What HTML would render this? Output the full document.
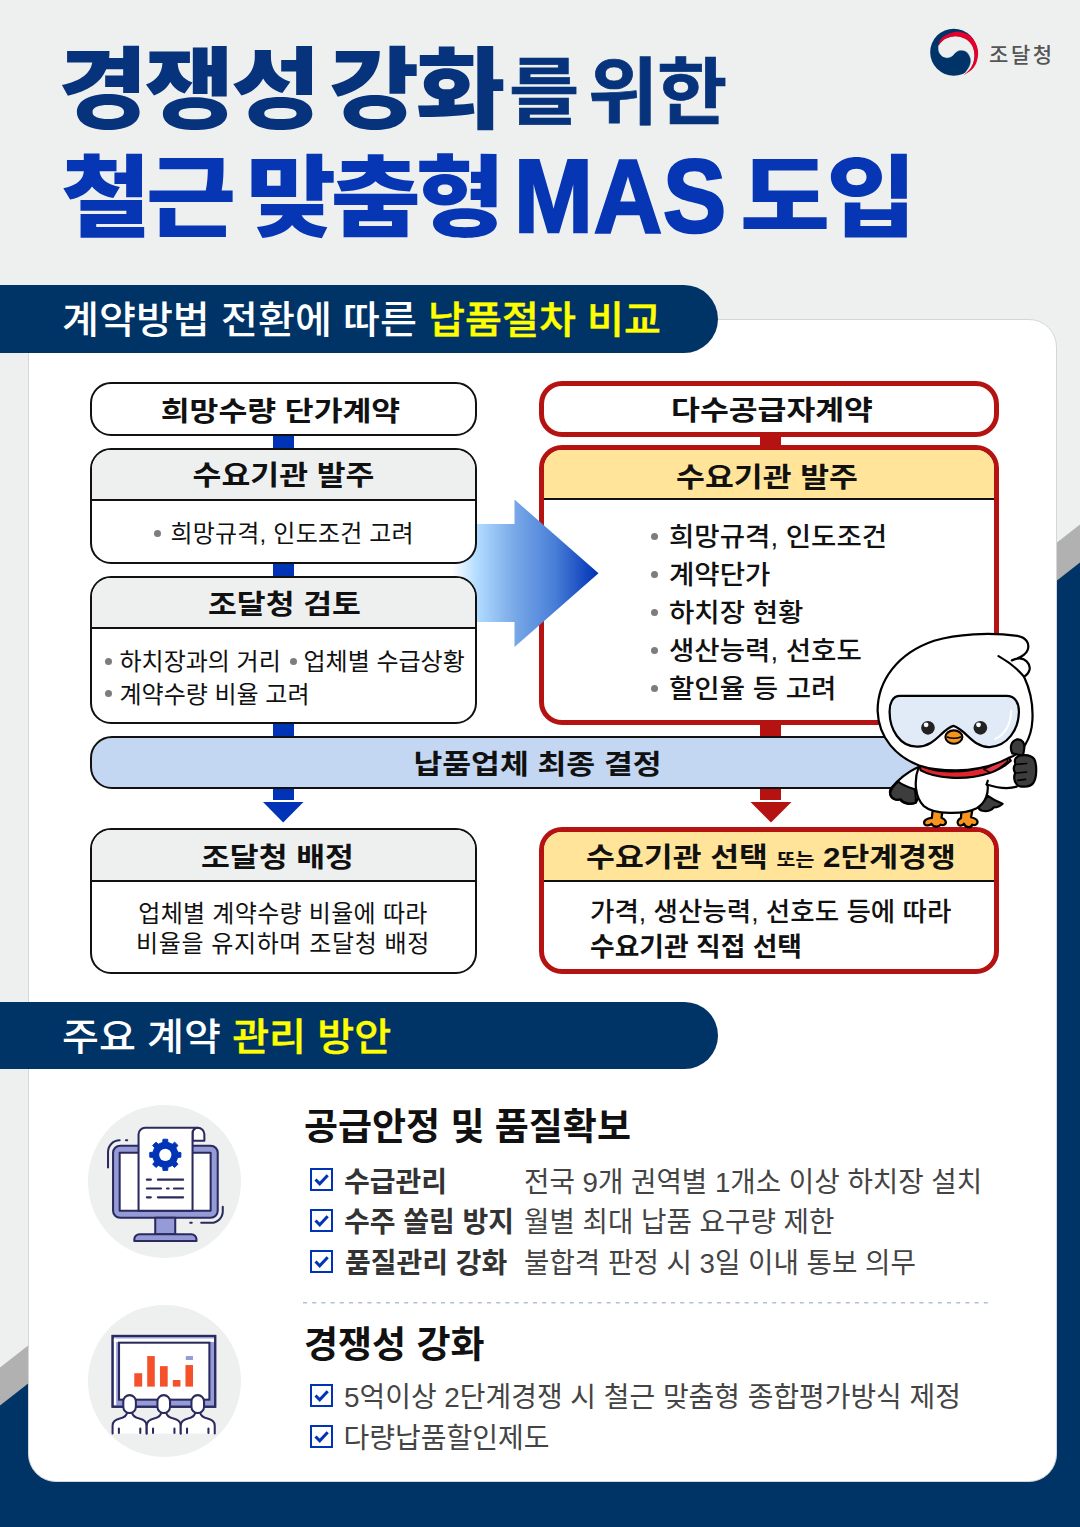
<!DOCTYPE html>
<html lang="ko">
<head>
<meta charset="utf-8">
<title>철근 맞춤형 MAS 도입</title>
<style>
*{box-sizing:border-box;margin:0;padding:0}
html,body{width:1080px;height:1527px;overflow:hidden;background:#eef0f0}
body{position:relative;font-family:"Liberation Sans","Noto Sans CJK KR",sans-serif;color:#111}
.abs{position:absolute}
.t{position:absolute;white-space:nowrap;line-height:1}
#bg{position:absolute;left:0;top:0;width:1080px;height:1527px}
#card{position:absolute;left:27.8px;top:319px;width:1029px;height:1163.2px;background:#fff;border-radius:28px;border:1.6px solid #d6d6d6}
/* title */
.ttl{font-family:"Liberation Sans","Noto Sans CJK KR",sans-serif;font-weight:900}
.k1,.k2{font-size:89px;letter-spacing:-3.3px;transform-origin:0 0;transform:scaleX(1.10)}
.tc{top:0;transform-origin:0 0;transform:scaleX(1.045)}
.k1{color:#06337b}.k2{color:#0636b4}
/* pills */
.pill{position:absolute;left:0;width:718px;height:68px;background:#003366;border-radius:0 34px 34px 0}
.pill .t{left:62px;top:16px;font-size:38px;color:#fff;font-weight:500;transform-origin:0 50%;transform:scaleX(1.057)}
.pill b{color:#ffff00;font-weight:500;-webkit-text-stroke:.4px #ffff00}
/* boxes */
.bx{position:absolute;border:2px solid #111;border-radius:21px;background:#fff;overflow:hidden}
.bx .hd{position:absolute;left:0;right:0;top:0;background:#eef0f0;border-bottom:2px solid #111}
.rx{position:absolute;border:5px solid #b51212;border-radius:23px;background:#fff;overflow:hidden}
.rx .hd{position:absolute;left:0;right:0;top:0;background:#ffe499;border-bottom:2px solid #111}
.bt{font-size:27.5px;font-weight:700;color:#111;text-align:center;left:0;right:0;transform:scaleX(1.14)}
.c{position:absolute}
.h2{font-size:37px;font-weight:700;color:#111;transform-origin:0 50%}
.lb{font-size:28px;font-weight:700;color:#333;transform-origin:0 50%}
.lr{font-size:28px;font-weight:400;color:#444;transform-origin:0 50%;transform:scaleX(.987)}
.li{margin-top:-1px;font-size:24px;font-weight:400;color:#111}
.ri{margin-top:-1px;font-size:26px;font-weight:500;color:#111;transform-origin:0 50%;transform:scaleX(1.06)}
.dot{position:absolute;width:7px;height:7px;border-radius:50%;background:#7d7d7d}
</style>
</head>
<body>
<svg id="bg" viewBox="0 0 1080 1527">
  <polygon points="0,1367.4 1080,524.5 1080,1527 0,1527" fill="#b1b1b1"/>
  <polygon points="0,1405.4 1080,562.5 1080,1527 0,1527" fill="#003366"/>
</svg>
<div id="card"></div>

<!-- TITLE -->
<div class="t ttl k1" id="tA" style="left:58px;top:46px">경쟁성</div>
<div class="t ttl k1" id="tB" style="left:329px;top:46px">강화</div>
<div class="t ttl" id="tC" style="left:0;top:56px;font-size:73px;color:#06337b;font-weight:700;-webkit-text-stroke:.7px #06337b"><span class="t tc" id="tC1" style="left:508.6px">를 </span><span class="t tc" id="tC2" style="left:587.9px">위</span><span class="t tc" id="tC3" style="left:656.9px">한</span></div>
<div class="t ttl k2" id="tD" style="left:61px;top:154px;letter-spacing:-4.5px">철근</div>
<div class="t ttl k2" id="tE" style="left:246px;top:154px;letter-spacing:-4.8px">맞춤형</div>
<div class="t ttl k2" id="tF" style="left:514px;top:144px;font-size:104px;letter-spacing:1px;transform:scaleX(.91);-webkit-text-stroke:2.6px #0636b4">MAS</div>
<div class="t ttl k2" id="tG" style="left:740px;top:154px">도입</div>

<!-- LOGO -->
<svg class="abs" id="LG" style="left:910px;top:10px" width="160" height="90" viewBox="0 0 1080 608">
 <circle cx="295" cy="285" r="159" fill="#003468"/>
 <path d="M191.5,242.5C194.6,238.3 201.5,225.8 210.0,217.5C218.5,209.2 228.8,199.0 242.5,192.5C256.2,186.0 275.8,180.2 292.5,178.5C309.2,176.8 325.8,177.7 342.5,182.5C359.2,187.3 378.8,195.8 392.5,207.5C406.2,219.2 417.9,235.8 425.0,252.5C432.1,269.2 435.0,289.2 435.0,307.5C435.0,325.8 431.2,345.8 425.0,362.5C418.8,379.2 408.8,394.2 397.5,407.5C386.2,420.8 364.2,436.7 357.5,442.5C360.8,438.3 370.0,428.3 377.5,417.5C385.0,406.7 397.1,390.8 402.5,377.5C407.9,364.2 410.8,350.0 410.0,337.5C409.2,325.0 403.8,312.5 397.5,302.5C391.2,292.5 382.5,282.5 372.5,277.5C362.5,272.5 348.3,270.8 337.5,272.5C326.7,274.2 316.7,280.8 307.5,287.5C298.3,294.2 291.7,306.7 282.5,312.5C273.3,318.3 263.3,322.5 252.5,322.5C241.7,322.5 227.1,319.2 217.5,312.5C207.9,305.8 199.3,294.2 195.0,282.5C190.7,270.8 192.1,249.2 191.5,242.5Z" fill="#eef0f0" stroke="#eef0f0" stroke-width="2"/>
 <path d="M191.5,242.5C193.3,236.2 195.7,216.2 202.5,205.0C209.3,193.8 217.5,184.2 232.5,175.0C247.5,165.8 273.3,154.2 292.5,150.0C311.7,145.8 328.3,145.8 347.5,150.0C366.7,154.2 390.8,161.2 407.5,175.0C424.2,188.8 438.8,212.9 447.5,232.5C456.2,252.1 460.0,271.7 460.0,292.5C460.0,313.3 455.4,338.3 447.5,357.5C439.6,376.7 427.5,393.3 412.5,407.5C397.5,421.7 366.7,436.7 357.5,442.5C364.2,436.7 386.2,420.8 397.5,407.5C408.8,394.2 418.8,379.2 425.0,362.5C431.2,345.8 435.0,325.8 435.0,307.5C435.0,289.2 432.1,269.2 425.0,252.5C417.9,235.8 406.2,219.2 392.5,207.5C378.8,195.8 359.2,187.3 342.5,182.5C325.8,177.7 309.2,176.8 292.5,178.5C275.8,180.2 256.2,186.0 242.5,192.5C228.8,199.0 218.5,209.2 210.0,217.5C201.5,225.8 194.6,238.3 191.5,242.5Z" fill="#e4002b"/>
</svg>
<div class="t" id="LGt" style="left:989px;top:43.5px;font-size:21px;font-weight:500;color:#555;letter-spacing:2.6px">조달청</div>
<!-- SECTION PILLS -->
<div class="pill" style="top:285px"><div class="t" id="P1">계약방법 전환에 따른 <b>납품절차 비교</b></div></div>
<div class="pill" style="top:1002px;height:67px"><div class="t" id="P2">주요 계약 <b>관리 방안</b></div></div>

<!--FLOW-->
<!-- connectors -->
<div class="c" style="left:272.5px;top:430px;width:21.5px;height:370px;background:#0033b5"></div>
<div class="c" style="left:760px;top:430px;width:21px;height:370px;background:#b51212"></div>
<svg class="abs" style="left:250px;top:786px" width="560" height="40" viewBox="250 786 560 40">
  <polygon points="263,802 303.5,802 283.2,822.5" fill="#0033b5"/>
  <polygon points="750.5,802 791.5,802 771,822.5" fill="#b51212"/>
</svg>
<!-- right column -->
<div class="rx" id="R1" style="left:538.5px;top:380.5px;width:460px;height:56.5px"><div class="t bt" id="R1t" style="top:11.5px;left:3.5px;right:-3.5px">다수공급자계약</div></div>
<div class="rx" id="R2" style="left:538.5px;top:445px;width:460px;height:280px">
  <div class="hd" style="height:50px"></div><div class="t bt" id="R2t" style="top:14px;left:-1.5px;right:1.5px">수요기관 발주</div>
  <i class="dot" style="left:107px;top:83px"></i><div class="t ri" id="R2a" style="left:125px;top:75px">희망규격, 인도조건</div>
  <i class="dot" style="left:107px;top:121px"></i><div class="t ri" id="R2b" style="left:125px;top:113px">계약단가</div>
  <i class="dot" style="left:107px;top:159px"></i><div class="t ri" id="R2c" style="left:125px;top:150.5px">하치장 현황</div>
  <i class="dot" style="left:107px;top:197px"></i><div class="t ri" id="R2d" style="left:125px;top:188.5px">생산능력, 선호도</div>
  <i class="dot" style="left:107px;top:235px"></i><div class="t ri" id="R2e" style="left:125px;top:226.5px">할인율 등 고려</div>
</div>
<div class="rx" id="R3" style="left:538.5px;top:826.5px;width:460px;height:147.5px">
  <div class="hd" style="height:50px"></div><div class="t bt" id="R3t" style="top:12.5px;left:2.5px;right:-2.5px">수요기관 선택 <span style="font-size:18px;font-weight:700;position:relative;top:-1.5px">또는</span> 2단계경쟁</div>
  <div class="t ri" id="R3a" style="left:46px;top:68px;transform:scaleX(1.02)">가격, 생산능력, 선호도 등에 따라</div>
  <div class="t ri" id="R3b" style="left:46px;top:103.5px;font-weight:700;transform:scaleX(1.03)">수요기관 직접 선택</div>
</div>
<!-- big gradient arrow (behind left boxes) -->
<svg class="abs" style="left:440px;top:490px" width="170" height="170" viewBox="440 490 170 170">
  <defs><linearGradient id="ga" x1="452" y1="0" x2="598" y2="0" gradientUnits="userSpaceOnUse">
    <stop offset="0" stop-color="#ffffff"/><stop offset=".17" stop-color="#b2dcff"/><stop offset=".42" stop-color="#7aaae8"/><stop offset=".7" stop-color="#4a7fd8"/><stop offset="1" stop-color="#0033b5"/>
  </linearGradient></defs>
  <polygon id="bigarrow" points="452,524 514.5,524 514.5,499.5 598.5,573.3 514.5,647 514.5,622 452,622" fill="url(#ga)"/>
</svg>

<!-- left column -->
<div class="bx" id="L1" style="left:89.5px;top:382px;width:387px;height:54px"><div class="t bt" id="L1t" style="top:13.5px;left:-2.5px;right:2.5px">희망수량 단가계약</div></div>
<div class="bx" id="L2" style="left:89.5px;top:447.5px;width:387px;height:116.5px">
  <div class="hd" style="height:51px"></div><div class="t bt" id="L2t" style="top:12px">수요기관 발주</div>
  <i class="dot" style="left:62px;top:80px"></i><div class="t li" id="L2a" style="left:79px;top:73px;letter-spacing:.2px">희망규격, 인도조건 고려</div>
</div>
<div class="bx" id="L3" style="left:89.5px;top:576px;width:387px;height:148px">
  <div class="hd" style="height:51px"></div><div class="t bt" id="L3t" style="top:12.5px;left:1.5px;right:-1.5px">조달청 검토</div>
  <i class="dot" style="left:13.7px;top:79.7px"></i><div class="t li" id="L3a" style="left:28px;top:73px">하치장과의 거리</div>
  <i class="dot" style="left:198px;top:79.7px"></i><div class="t li" id="L3b" style="left:212px;top:73px">업체별 수급상황</div>
  <i class="dot" style="left:13.7px;top:112.2px"></i><div class="t li" id="L3c" style="left:28px;top:105.5px">계약수량 비율 고려</div>
</div>
<div class="bx" id="BAR" style="left:89.5px;top:735.5px;width:909px;height:53px;background:#c3d7f2;border-radius:22px"><div class="t bt" id="BARt" style="top:13.5px;left:0;width:891px">납품업체 최종 결정</div></div>
<div class="bx" id="L4" style="left:89.5px;top:828px;width:387px;height:145.5px">
  <div class="hd" style="height:52px"></div><div class="t bt" id="L4t" style="top:14px;left:-6px;right:6px">조달청 배정</div>
  <div class="t li" id="L4a" style="left:0;right:0;text-align:center;top:72.5px;letter-spacing:.3px">업체별 계약수량 비율에 따라</div>
  <div class="t li" id="L4b" style="left:0;right:0;text-align:center;top:102.5px;letter-spacing:.6px">비율을 유지하며 조달청 배정</div>
</div>

<!--MASCOT-->
<svg class="abs" id="MS" style="left:860px;top:620px" width="200" height="220" viewBox="0 0 1080 1188">
 <g stroke="#000" stroke-width="12" stroke-linejoin="round" stroke-linecap="round" fill="#fff">
  <!-- left wing -->
  <path d="M320,792C262,815 200,868 168,908C150,940 172,975 216,968C232,992 272,1000 302,986L330,930Z"/>
  <path d="M206,872C186,890 166,912 163,936C166,966 196,978 218,968C236,990 276,998 302,985C302,952 300,930 296,914C264,904 226,890 206,872Z" fill="#3d3d3d"/>
  <!-- tail feather right -->
  <path d="M690,950C720,972 748,984 770,992C756,1006 740,1012 722,1012C714,1026 690,1036 660,1030C650,1028 644,1022 638,1014Z" fill="#3d3d3d"/>
  <!-- feet -->
  <path d="M392,1030L388,1068C360,1070 340,1086 348,1102C356,1114 376,1110 386,1100C396,1120 426,1120 436,1105C452,1113 470,1100 461,1084C456,1075 446,1070 440,1068L446,1030Z" fill="#f7941d"/>
  <path d="M548,1030L545,1070C528,1076 521,1096 532,1106C542,1114 556,1109 561,1100C571,1124 601,1124 606,1105C621,1113 640,1100 633,1084C628,1074 612,1068 600,1065L606,1030Z" fill="#f7941d"/>
  <!-- body -->
  <path d="M318,790C288,870 298,960 345,1005C400,1052 560,1052 630,1016C682,986 696,930 688,880L770,760Z"/>
  <!-- arm -->
  <path d="M690,800L800,738C816,724 826,712 832,698L856,720L846,900C800,914 740,906 684,888Z" stroke="none"/>
  <path d="M800,738C816,724 826,712 832,698" fill="none"/>
  <path d="M690,868L684,888" fill="none"/>
  <path d="M684,888C740,906 800,914 846,900" fill="none"/>
  <!-- scarf -->
  <path d="M318,780C400,826 560,832 680,788C730,768 770,752 802,738L814,760C780,792 740,812 700,826C560,872 400,852 328,812Z" fill="#e0262d"/>
  <path d="M668,806C700,790 740,775 772,752C790,748 800,752 796,764C770,790 735,812 704,824Z" fill="#e23a44" stroke-width="8"/>
  <!-- head -->
  <path d="M95,490C95,330 200,180 400,112C520,76 700,64 850,86C900,96 916,126 906,160C896,190 860,206 820,218C850,204 882,204 902,226C926,250 920,286 886,306C916,370 936,450 931,540C926,640 880,720 800,746C720,790 620,810 520,812C430,812 360,800 320,786C200,740 100,640 95,490Z"/>
  <path d="M748,195C800,224 850,264 886,306" fill="none"/>
  <!-- hand -->
  <path d="M822,720C808,690 814,655 846,645C876,640 893,666 886,700L880,734Z" fill="#3d3d3d"/>
  <path d="M842,745C862,724 920,724 940,750C956,780 956,850 936,880C916,906 860,906 845,886C830,870 830,842 838,826C828,810 830,790 840,778C835,765 836,752 842,745Z" fill="#3d3d3d"/>
  <path d="M846,780L900,775M846,826L900,821M852,866L894,861" fill="none" stroke-width="9"/>
  <!-- goggles -->
  <path d="M216,410L790,410C840,410 860,450 858,500C855,590 800,680 700,686C610,690 570,590 505,572C440,590 405,686 310,684C215,686 160,590 160,500C158,450 176,410 216,410Z" fill="#e0ebf7"/>
  <path d="M816,490C816,560 782,620 730,642" fill="none" stroke="#fff" stroke-width="11"/>
  <circle cx="367" cy="582" r="37" fill="#222" stroke="none"/><circle cx="650" cy="582" r="37" fill="#222" stroke="none"/>
  <circle cx="357" cy="566" r="13" stroke="none"/><circle cx="640" cy="566" r="13" stroke="none"/>
  <ellipse cx="507" cy="632" rx="46" ry="36" fill="#f7941d" stroke-width="11"/>
  <path d="M470,632C492,640 524,640 544,632" fill="none" stroke-width="8"/>
 </g>
</svg>
<!--LOWER-->
<div class="c" style="left:88px;top:1105px;width:152.5px;height:152.5px;border-radius:50%;background:#eef0f0"></div>
<div class="c" style="left:88px;top:1304.5px;width:152.5px;height:152.5px;border-radius:50%;background:#eef0f0"></div>
<!--ICON1-->
<svg class="abs" id="IC1" style="left:80px;top:1095px" width="170" height="170" viewBox="0 0 1080 1080">
 <g fill="none" stroke="#2b2a5e" stroke-width="13" stroke-linecap="round" stroke-linejoin="round">
  <rect x="210" y="322" width="665" height="458" rx="45" fill="#959bd6"/>
  <rect x="252" y="367" width="578" height="368" fill="#fff"/>
  <path d="M178,460V362A74 74 0 0 1 252,288"/><path d="M292,288h8"/>
  <path d="M907,710V738A74 74 0 0 1 833,812H770"/><path d="M700,812h10"/>
  <rect x="478" y="780" width="127" height="105" fill="#959bd6"/>
  <path d="M345,928V918A33 33 0 0 1 378,885H707A33 33 0 0 1 740,918V928Z" fill="#959bd6"/>
  <path d="M715,290H790V250A42 42 0 0 0 748,208A33 33 0 0 0 715,241Z" fill="#fff"/>
  <path d="M372,735V250A42 42 0 0 1 414,208H748A33 33 0 0 0 715,241V735Z" fill="#fff"/>
  <g stroke-width="14"><path d="M425,538h25M495,538h160M425,594h90M553,594h10M597,594h58M425,650h25M495,650h160"/></g>
 </g>
 <path d="M525.6,300.7 L527.1,281.1 L556.9,281.1 L558.4,300.7 L586.5,312.3 L601.4,299.6 L622.4,320.6 L609.7,335.5 L621.3,363.6 L640.9,365.1 L640.9,394.9 L621.3,396.4 L609.7,424.5 L622.4,439.4 L601.4,460.4 L586.5,447.7 L558.4,459.3 L556.9,478.9 L527.1,478.9 L525.6,459.3 L497.5,447.7 L482.6,460.4 L461.6,439.4 L474.3,424.5 L462.7,396.4 L443.1,394.9 L443.1,365.1 L462.7,363.6 L474.3,335.5 L461.6,320.6 L482.6,299.6 L497.5,312.3Z" fill="#0033b5" stroke="#0033b5" stroke-width="6" stroke-linejoin="round"/><circle cx="542" cy="380" r="39" fill="#fff"/>
</svg>
<!--ICON2-->
<svg class="abs" id="IC2" style="left:80px;top:1295px" width="170" height="170" viewBox="0 0 1080 1080">
 <g fill="none" stroke="#2b2a5e" stroke-width="13" stroke-linejoin="round" stroke-linecap="round">
  <rect x="207" y="260" width="652" height="450" fill="#959bd6" stroke-linejoin="miter"/>
  <path d="M214,288H852" stroke="#fff" stroke-width="22" stroke-linecap="butt"/><path d="M222,277V700" stroke="#fff" stroke-width="16" stroke-linecap="butt"/>
  <rect x="207" y="260" width="652" height="450" stroke-linejoin="miter"/>
  <rect x="248" y="303" width="574" height="362" fill="#fff" stroke-linejoin="miter"/>
  <g stroke="none" fill="#f4502a"><rect x="345" y="497" width="50" height="85"/><rect x="427" y="388" width="48" height="194"/><rect x="508" y="452" width="49" height="130"/><rect x="590" y="540" width="48" height="42"/><rect x="670" y="445" width="48" height="137"/><rect x="672" y="388" width="46" height="25" fill="#959bd6"/></g>
  <path d="M207,880V830C207,800 227,791 253,785C279,779 295,770 299,748H331C335,770 351,779 377,785C403,791 423,800 423,830V880" fill="#fff"/><path d="M247,848V876M383,848V876"/><rect x="275" y="636" width="80" height="114" rx="40" fill="#fff"/><path d="M424,880V830C424,800 444,791 470,785C496,779 512,770 516,748H548C552,770 568,779 594,785C620,791 640,800 640,830V880" fill="#fff"/><path d="M464,848V876M600,848V876"/><rect x="492" y="636" width="80" height="114" rx="40" fill="#fff"/><path d="M640,880V830C640,800 660,791 686,785C712,779 728,770 732,748H764C768,770 784,779 810,785C836,791 856,800 856,830V880" fill="#fff"/><path d="M680,848V876M816,848V876"/><rect x="708" y="636" width="80" height="114" rx="40" fill="#fff"/>
 </g>
</svg>
<div class="t h2" id="H1" style="left:304px;top:1108.5px">공급안정 및 품질확보</div>
<div class="t h2" id="H2" style="left:304px;top:1326.5px">경쟁성 강화</div>
<svg class="abs" style="left:300px;top:1300px" width="700" height="6" viewBox="0 0 700 6"><line x1="3" y1="2.7" x2="690" y2="2.7" stroke="#aebfd6" stroke-width="1.6" stroke-dasharray="4 5.2"/></svg>
<svg class="abs ck" style="left:309px;top:1166.7px" width="26" height="26" viewBox="0 0 26 26"><rect x="2" y="2" width="21" height="21" fill="#fff" stroke="#0033b5" stroke-width="2"/><path d="M6.5 12.5l4.2 4.3 8-8.6" fill="none" stroke="#0033b5" stroke-width="3"/></svg>
<svg class="abs ck" style="left:309px;top:1207.5px" width="26" height="26" viewBox="0 0 26 26"><rect x="2" y="2" width="21" height="21" fill="#fff" stroke="#0033b5" stroke-width="2"/><path d="M6.5 12.5l4.2 4.3 8-8.6" fill="none" stroke="#0033b5" stroke-width="3"/></svg>
<svg class="abs ck" style="left:309px;top:1249px" width="26" height="26" viewBox="0 0 26 26"><rect x="2" y="2" width="21" height="21" fill="#fff" stroke="#0033b5" stroke-width="2"/><path d="M6.5 12.5l4.2 4.3 8-8.6" fill="none" stroke="#0033b5" stroke-width="3"/></svg>
<svg class="abs ck" style="left:309px;top:1383px" width="26" height="26" viewBox="0 0 26 26"><rect x="2" y="2" width="21" height="21" fill="#fff" stroke="#0033b5" stroke-width="2"/><path d="M6.5 12.5l4.2 4.3 8-8.6" fill="none" stroke="#0033b5" stroke-width="3"/></svg>
<svg class="abs ck" style="left:309px;top:1424px" width="26" height="26" viewBox="0 0 26 26"><rect x="2" y="2" width="21" height="21" fill="#fff" stroke="#0033b5" stroke-width="2"/><path d="M6.5 12.5l4.2 4.3 8-8.6" fill="none" stroke="#0033b5" stroke-width="3"/></svg>
<div class="t lb" id="A1" style="left:344px;top:1168.5px">수급관리</div>
<div class="t lb" id="A2" style="left:344px;top:1209px">수주 쏠림 방지</div>
<div class="t lb" id="A3" style="left:345px;top:1249.5px">품질관리 강화</div>
<div class="t lr" id="B1" style="left:524px;top:1168.5px">전국 9개 권역별 1개소 이상 하치장 설치</div>
<div class="t lr" id="B2" style="left:524px;top:1209px">월별 최대 납품 요구량 제한</div>
<div class="t lr" id="B3" style="left:524px;top:1249.5px">불합격 판정 시 3일 이내 통보 의무</div>
<div class="t lr" id="C1" style="left:344px;top:1383.5px;transform:scaleX(.997)">5억이상 2단계경쟁 시 철근 맞춤형 종합평가방식 제정</div>
<div class="t lr" id="C2" style="left:343.5px;top:1425px;transform:none">다량납품할인제도</div>
</body>
</html>
